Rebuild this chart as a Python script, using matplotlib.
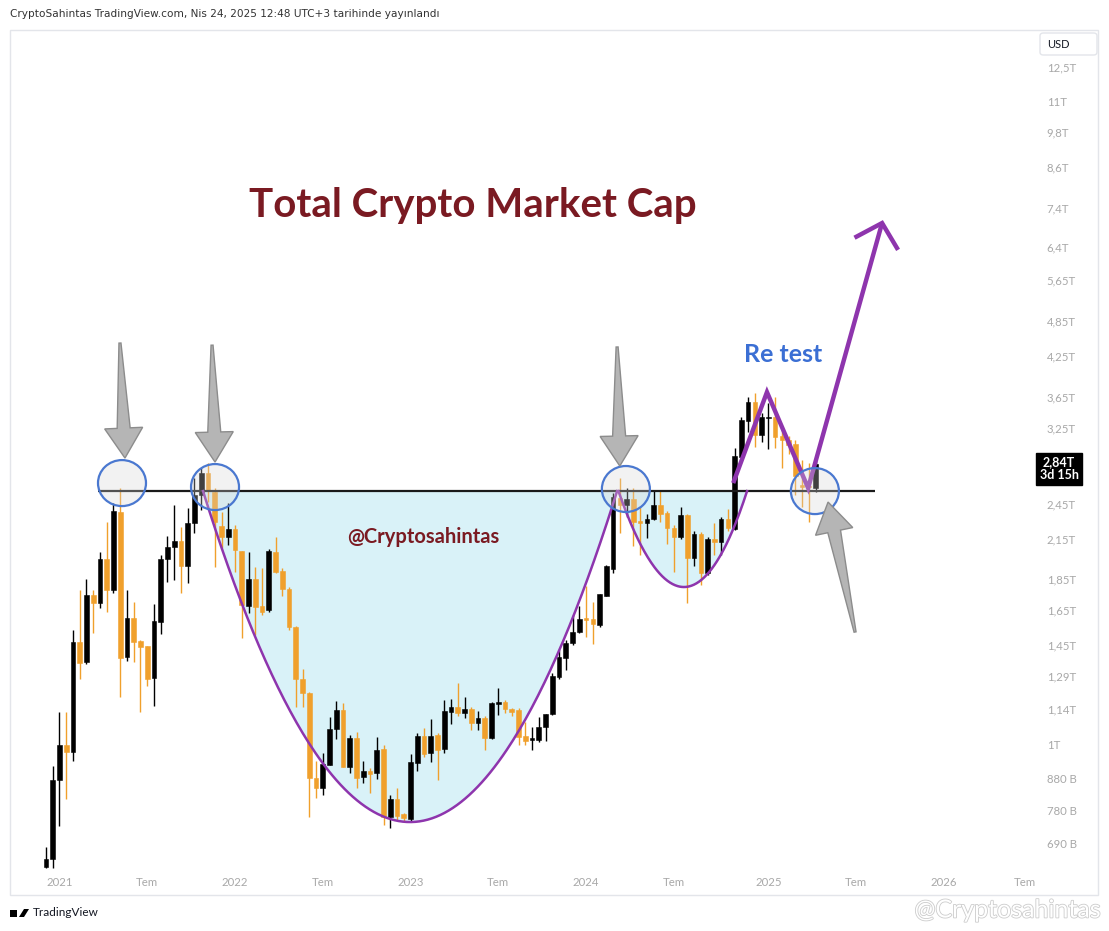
import numpy as np
import matplotlib
matplotlib.use('Agg')
import matplotlib.pyplot as plt
from matplotlib.patches import Rectangle, Ellipse, Polygon, FancyBboxPatch
from matplotlib.lines import Line2D
from matplotlib.ticker import NullLocator
from matplotlib import transforms
import matplotlib.patheffects as pe

W, H = 1109, 931

# biweekly candles, values in trillions USD
opens = [0.632, 0.651, 0.874, 0.996, 0.971, 1.463, 1.358, 1.744, 1.692, 1.994,
         1.776, 2.377, 1.383, 1.600, 1.469, 1.442, 1.279, 1.576, 1.994, 2.086,
         2.133, 1.943, 2.281, 2.532, 2.749, 2.560, 2.256, 2.165, 2.231, 2.054,
         1.673, 1.851, 1.673, 1.649, 2.047, 1.907, 1.783, 1.547, 1.274, 1.210,
         0.881, 0.849, 0.925, 1.057, 1.135, 0.918, 1.023, 0.884, 0.904, 0.897,
         0.982, 0.762, 0.814, 0.770, 0.756, 0.932, 1.030, 0.967, 1.034, 0.982,
         1.127, 1.148, 1.123, 1.140, 1.081, 1.102, 1.023, 1.161, 1.170, 1.140,
         1.135, 1.030, 1.015, 1.015, 1.065, 1.118, 1.284, 1.378, 1.458, 1.519,
         1.600, 1.594, 1.559, 1.737, 1.921, 2.504, 2.440, 2.495, 2.298, 2.281,
         2.315, 2.440, 2.368, 2.239, 2.165, 2.350, 2.002, 2.189, 1.893, 2.149,
         2.125, 2.315, 2.231, 2.918, 3.338, 3.583, 3.168, 3.375, 3.388, 3.156,
         3.109, 3.062, 2.628, 2.619, 2.600]
highs = [0.681, 0.921, 1.127, 1.127, 1.530, 1.776, 1.851, 1.776, 2.047, 2.290,
         2.458, 2.600, 1.776, 1.699, 1.476, 1.442, 1.686, 2.024, 2.173, 2.440,
         2.247, 2.413, 2.698, 2.801, 2.853, 2.600, 2.377, 2.458, 2.264, 2.054,
         2.047, 1.935, 1.928, 2.070, 2.165, 1.928, 1.797, 1.553, 1.323, 1.214,
         0.940, 0.967, 1.106, 1.174, 1.165, 1.034, 1.046, 0.940, 0.914, 1.026,
         0.996, 0.827, 0.849, 0.773, 0.963, 1.042, 1.061, 1.098, 1.042, 1.178,
         1.183, 1.256, 1.192, 1.148, 1.131, 1.110, 1.170, 1.232, 1.178, 1.144,
         1.144, 1.086, 1.065, 1.106, 1.118, 1.303, 1.420, 1.474, 1.618, 1.673,
         1.803, 1.699, 1.750, 1.950, 2.551, 2.698, 2.600, 2.600, 2.421, 2.359,
         2.580, 2.580, 2.386, 2.264, 2.421, 2.359, 2.214, 2.206, 2.165, 2.281,
         2.332, 2.400, 3.017, 3.388, 3.650, 3.705, 3.439, 3.569, 3.650, 3.227,
         3.156, 3.109, 2.885, 2.853, 2.918]
lows = [0.630, 0.630, 0.736, 0.814, 0.939, 1.274, 1.348, 1.513, 1.661, 1.636,
        1.757, 1.192, 1.363, 1.358, 1.127, 1.242, 1.152, 1.507, 1.830, 1.844,
        1.757, 1.824, 2.198, 2.394, 2.467, 1.935, 2.078, 2.101, 1.900, 1.485,
        1.630, 1.502, 1.618, 1.636, 1.893, 1.737, 1.530, 1.148, 1.148, 0.762,
        0.817, 0.827, 0.925, 1.019, 0.918, 0.897, 0.849, 0.865, 0.833, 0.878,
        0.739, 0.731, 0.753, 0.748, 0.748, 0.904, 0.953, 0.935, 0.874, 0.967,
        1.077, 1.110, 1.102, 1.054, 1.054, 0.978, 1.019, 1.114, 1.123, 1.110,
        0.996, 0.996, 0.978, 1.008, 1.011, 1.114, 1.274, 1.318, 1.447, 1.513,
        1.490, 1.452, 1.547, 1.737, 1.893, 2.198, 2.332, 2.093, 2.024, 2.157,
        2.307, 2.290, 2.109, 1.900, 2.149, 1.692, 1.943, 1.810, 1.879, 2.024,
        2.024, 2.214, 2.222, 2.918, 3.203, 3.029, 3.086, 3.006, 3.017, 2.801,
        2.951, 2.532, 2.421, 2.290, 2.560]
closes = [0.651, 0.874, 0.996, 0.971, 1.463, 1.353, 1.744, 1.692, 1.994, 1.776,
          2.386, 1.378, 1.600, 1.463, 1.436, 1.274, 1.582, 1.994, 2.086, 2.133,
          1.943, 2.281, 2.532, 2.749, 2.570, 2.290, 2.165, 2.231, 2.062, 1.680,
          1.851, 1.667, 1.636, 2.054, 1.900, 1.783, 1.547, 1.274, 1.210, 0.881,
          0.849, 0.928, 1.057, 1.135, 0.918, 1.023, 0.881, 0.904, 0.894, 0.978,
          0.762, 0.814, 0.764, 0.759, 0.935, 1.030, 0.963, 1.030, 0.978, 1.131,
          1.148, 1.123, 1.140, 1.081, 1.102, 1.023, 1.165, 1.170, 1.140, 1.127,
          1.026, 1.011, 1.023, 1.065, 1.118, 1.289, 1.383, 1.458, 1.519, 1.594,
          1.588, 1.565, 1.750, 1.943, 2.513, 2.440, 2.495, 2.290, 2.281, 2.315,
          2.440, 2.359, 2.239, 2.165, 2.350, 2.002, 2.189, 1.893, 2.149, 2.125,
          2.315, 2.239, 2.929, 3.350, 3.583, 3.168, 3.388, 3.388, 3.144, 3.109,
          3.052, 2.718, 2.609, 2.609, 2.840]

price_ticks = [12.5, 11, 9.8, 8.6, 7.4, 6.4, 5.65, 4.85, 4.25, 3.65, 3.25,
               2.45, 2.15, 1.85, 1.65, 1.45, 1.29, 1.14, 1, 0.88, 0.78, 0.69]
price_labels = ['12,5T', '11T', '9,8T', '8,6T', '7,4T', '6,4T', '5,65T', '4,85T',
                '4,25T', '3,65T', '3,25T', '2,45T', '2,15T', '1,85T', '1,65T',
                '1,45T', '1,29T', '1,14T', '1T', '880 B', '780 B', '690 B']
time_ticks = [2, 15, 28, 41, 54, 67, 80, 93, 107, 120, 133, 145]
time_labels = ['2021', 'Tem', '2022', 'Tem', '2023', 'Tem', '2024', 'Tem',
               '2025', 'Tem', '2026', 'Tem']

neckline = 2.57
last_price = 2.84
last_label = '2,84T\n3d 15h'

# hand-drawn annotations, (bar index, price)
circles = [(11.26, 2.648), (25.04, 2.609), (85.9, 2.590), (113.9, 2.570)]
gray_arrows = [((11.7, 2.907), (10.96, 4.465)),
               ((25.04, 2.864), (24.6, 4.43)),
               ((85.0, 2.822), (84.6, 4.40)),
               ((115.85, 2.467), (119.85, 1.519))]
cup = [(23.26, 2.57), (53.93, 0.2174), (84.6, 2.57)]
handle = [(84.8, 2.57), (94.67, 1.256), (103.85, 2.57)]
retest_path = [(101.8, 2.648), (106.8, 3.718), (112.9, 2.599), (123.85, 6.987)]

UP = '#000000'
DOWN = '#f0a02c'
PURPLE = '#8e35ad'
CYAN = '#d9f2f8'


def fx(px):
    return px / W


def fy(py):
    return 1 - py / H


fig = plt.figure(figsize=(W / 100, H / 100), dpi=100)
fig.patch.set_facecolor('white')

ax = fig.add_axes([fx(10), fy(870), (1037 - 10) / W, (870 - 30) / H])
ax.set_yscale('log')
ax.set_xlim(-5.33, 146.8)
ax.set_ylim(0.625, 14.36)
ax.set_facecolor('none')
for s in ax.spines.values():
    s.set_visible(False)

ax.yaxis.tick_right()
ax.set_yticks(price_ticks)
ax.set_yticklabels(price_labels)
ax.yaxis.set_minor_locator(NullLocator())
ax.set_xticks(time_ticks)
ax.set_xticklabels(time_labels)
ax.tick_params(axis='y', length=0, pad=7, labelsize=8.2, labelcolor='#a8a8a8')
ax.tick_params(axis='x', length=0, pad=5, labelsize=8.2, labelcolor='#a8a8a8')
for lab in ax.get_xticklabels() + ax.get_yticklabels():
    lab.set_family('Lato')

# candles
x = np.arange(len(opens))
o = np.array(opens)
c = np.array(closes)
cols = [UP if cc >= oo else DOWN for oo, cc in zip(o, c)]
ax.vlines(x, lows, highs, colors=cols, lw=1.0, zorder=3)
bottom = np.minimum(o, c)
height = np.maximum(np.abs(c - o), 0.004)
ax.bar(x, height, bottom=bottom, width=0.68, color=cols, edgecolor=cols,
       lw=0.4, zorder=4)


def bezier(pts, n=200):
    t = np.linspace(0, 1, n)
    (x0, y0), (x1, y1), (x2, y2) = pts
    ly0, ly1, ly2 = np.log(y0), np.log(y1), np.log(y2)
    bx = (1 - t) ** 2 * x0 + 2 * (1 - t) * t * x1 + t ** 2 * x2
    by = (1 - t) ** 2 * ly0 + 2 * (1 - t) * t * ly1 + t ** 2 * ly2
    return bx, np.exp(by)


for shape in (cup, handle):
    bx, by = bezier(shape)
    ax.fill_between(bx, by, neckline, color=CYAN, lw=0, zorder=1)
    ax.plot(bx, by, color=PURPLE, lw=1.8, zorder=6)

ax.hlines(neckline, 7.7, 122.8, color='#1a1a1a', lw=1.6, zorder=5)

rx, ry = zip(*retest_path)
ax.plot(rx, ry, color=PURPLE, lw=3.2, solid_joinstyle='miter',
        solid_capstyle='butt', zorder=7)

# drawings built in display pixels after the axes are fixed
to_fig = fig.transFigure.inverted()

for cx, cy in circles:
    px, py = ax.transData.transform((cx, cy))
    fxy = to_fig.transform((px, py))
    fig.add_artist(Ellipse(fxy, 48 / W, 46 / H, transform=fig.transFigure,
                           facecolor=(0.84, 0.84, 0.84, 0.3),
                           edgecolor='#4a78d0', lw=1.6, zorder=5))


def arrow_poly(tip, tail, head_len=30, head_w=38, shaft_w=13, tail_w=2):
    pt = np.array(ax.transData.transform(tip))
    pb = np.array(ax.transData.transform(tail))
    d = pt - pb
    u = d / np.hypot(*d)
    n = np.array([-u[1], u[0]])
    base = pt - u * head_len
    pts = [pb + n * tail_w / 2, base + n * shaft_w / 2, base + n * head_w / 2,
           pt, base - n * head_w / 2, base - n * shaft_w / 2, pb - n * tail_w / 2]
    return to_fig.transform(pts)


for tip, tail in gray_arrows:
    fig.add_artist(Polygon(arrow_poly(tip, tail), closed=True,
                           transform=fig.transFigure, facecolor='#b5b5b5',
                           edgecolor='#8c8c8c', lw=1.0, zorder=6))

# purple arrow head
pt = np.array(ax.transData.transform(retest_path[-1]))
pb = np.array(ax.transData.transform(retest_path[-2]))
u = (pt - pb) / np.hypot(*(pt - pb))
n = np.array([-u[1], u[0]])
head = [pt - u * 20 + n * 21, pt, pt - u * 20 - n * 21]
hf = to_fig.transform(head)
fig.add_artist(Line2D(hf[:, 0], hf[:, 1], transform=fig.transFigure,
                      color=PURPLE, lw=3.2, solid_joinstyle='miter', zorder=7))

# last price tag
blend = transforms.blended_transform_factory(fig.transFigure, ax.transData)
tag = transforms.offset_copy(blend, fig=fig, x=0, y=8, units='dots')
ax.text(fx(1059), last_price, last_label, transform=tag, ha='center', va='top',
        fontsize=9, color='white', fontweight='bold', family='Lato',
        linespacing=1.1, zorder=10,
        bbox=dict(boxstyle='square,pad=0.3', fc='black', ec='black'))

# frame, currency box
fig.add_artist(Rectangle((fx(10), fy(895)), (1098 - 10) / W, (895 - 30) / H,
                         transform=fig.transFigure, fill=False,
                         edgecolor='#e3e5ea', lw=1.0, zorder=0))
fig.add_artist(FancyBboxPatch((fx(1040), fy(55)), 57 / W, 22 / H,
                              boxstyle='round,pad=0,rounding_size=0.003',
                              transform=fig.transFigure, facecolor='white',
                              edgecolor='#e3e5ea', lw=1.0))
fig.text(fx(1058), fy(44), 'USD', ha='center', va='center', fontsize=8,
         color='#131722', family='Lato')

# texts
fig.text(fx(10), fy(14), 'CryptoSahintas TradingView.com, Nis 24, 2025 12:48 UTC+3 tarihinde yayınlandı',
         ha='left', va='center', fontsize=7.6, color='#333333', family='DejaVu Sans')
fig.text(fx(473), fy(205), 'Total Crypto Market Cap', ha='center', va='center',
         fontsize=29, fontweight='bold', color='#7a1a22', family='Lato')
fig.text(fx(423), fy(537), '@Cryptosahintas', ha='center', va='center',
         fontsize=14.5, fontweight='bold', color='#7a1a22', family='Lato')
fig.text(fx(783), fy(355), 'Re test', ha='center', va='center',
         fontsize=18, fontweight='bold', color='#3b6fd4', family='Lato')

# footer
fig.add_artist(Rectangle((fx(10), fy(917)), 7 / W, 7 / H, transform=fig.transFigure,
                         facecolor='black', edgecolor='none'))
fig.add_artist(Polygon([(fx(19), fy(917)), (fx(24), fy(917)), (fx(29), fy(909)),
                        (fx(24), fy(909))], closed=True, transform=fig.transFigure,
                       facecolor='black', edgecolor='none'))
fig.text(fx(33), fy(913), 'TradingView', ha='left', va='center', fontsize=8.5,
         color='#131722', family='Lato')
fig.text(fx(1100), fy(910), '@Cryptosahintas', ha='right', va='center',
         fontsize=18, color='white', family='Lato',
         path_effects=[pe.withStroke(linewidth=1.2, foreground='#cccccc')])

fig.savefig('out.png', dpi=100, facecolor='white')
